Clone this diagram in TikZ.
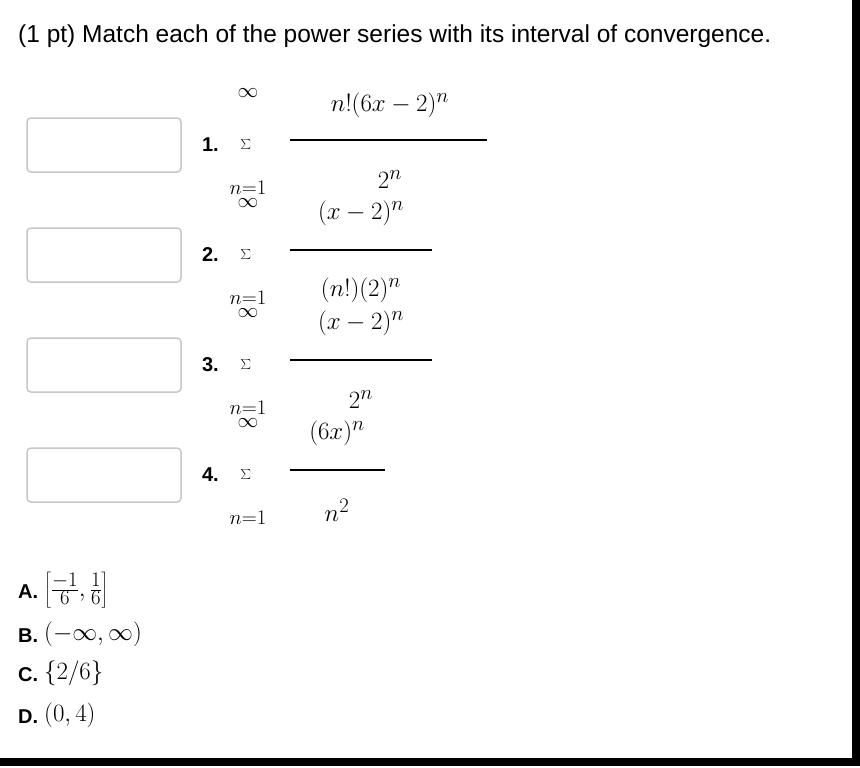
\documentclass[tikz,border=0pt]{standalone}
\usepackage{fontspec}
\setsansfont{Liberation Sans}
\begin{document}
\begin{tikzpicture}[x=1pt,y=-1pt,
  ibox/.style={draw=black!22,line width=1.5pt,rounded corners=4pt,minimum width=154pt,minimum height=54pt,inner sep=0pt},
  lbl/.style={font=\sffamily\bfseries\fontsize{20}{24}\selectfont,inner sep=0pt},
  mth/.style={font=\fontsize{30}{36}\selectfont,inner sep=0pt},
  sml/.style={font=\fontsize{22}{26}\selectfont,inner sep=0pt},
  sig/.style={font=\fontsize{44}{50}\selectfont,inner sep=0pt},
  bar/.style={line width=1.4pt}]
\useasboundingbox (0,0) rectangle (860,768);
\fill[white] (0,0) rectangle (860,768);
\fill[black] (852,0) rectangle (860,766);
\fill[black] (0,758) rectangle (860,766);
\node[anchor=west,inner sep=0pt,font=\sffamily\fontsize{24.5}{28}\selectfont] (t) at (18,36) {(1 pt) Match each of the power series with its interval of convergence.};
% series
\foreach \i/\y in {1/145,2/255,3/365,4/475}{
  \node[ibox] (b\i) at (104,\y) {};
  \node[lbl,anchor=east] (l\i) at (219,\y) {\i.};
  \node[sig] (s\i) at (246,\y) {$\sum$};
  \node[sml] (u\i) at (248,\y-52) {$\infty$};
  \node[sml] (d\i) at (248,\y+43) {$n{=}1$};
}
\draw[bar] (290,140) -- (487,140);
\node[mth] (n1) at (390,105) {$n!(6x-2)^n$};
\node[mth] (m1) at (390,180) {$2^n$};
\draw[bar] (290,250) -- (432,250);
\node[mth] (n2) at (361,213) {$(x-2)^n$};
\node[mth] (m2) at (361,290) {$(n!)(2)^n$};
\draw[bar] (290,360) -- (432,360);
\node[mth] (n3) at (361,323) {$(x-2)^n$};
\node[mth] (m3) at (361,400) {$2^n$};
\draw[bar] (290,470) -- (385,470);
\node[mth] (n4) at (337,433) {$(6x)^n$};
\node[mth] (m4) at (337,510) {$n^2$};
% answers
\node[lbl,anchor=west] (aA) at (18,592) {A.};
\node[mth,anchor=west] (xA) at (44,590) {$\left[\frac{-1}{6},\frac{1}{6}\right]$};
\node[lbl,anchor=west] (aB) at (18,636) {B.};
\node[mth,anchor=west] (xB) at (44,634) {$(-\infty,\infty)$};
\node[lbl,anchor=west] (aC) at (18,675) {C.};
\node[mth,anchor=west] (xC) at (44,673) {$\{2/6\}$};
\node[lbl,anchor=west] (aD) at (18,717) {D.};
\node[mth,anchor=west] (xD) at (44,715) {$(0,4)$};
\end{tikzpicture}
\end{document}
